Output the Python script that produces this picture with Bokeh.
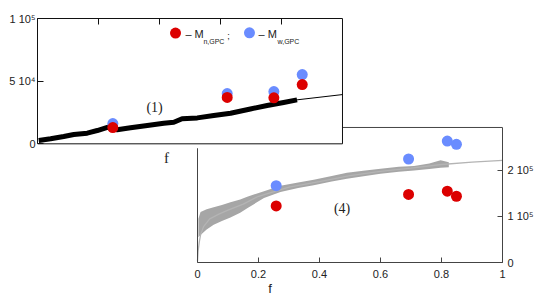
from bokeh.plotting import figure
from bokeh.models import Range1d, LinearAxis, FixedTicker, Label
from bokeh.embed import file_html
from bokeh.resources import INLINE

# ---------------- panel (1): upper-left inset ----------------
f_curve1 = [0.004, 0.043, 0.086, 0.119, 0.163, 0.196, 0.229, 0.261, 0.305, 0.36,
            0.414, 0.447, 0.474, 0.524, 0.578, 0.633, 0.698, 0.753, 0.807, 0.851]
M_curve1 = [2600, 4000, 5800, 7400, 8500, 10600, 13200, 11200, 12800, 14600,
            16400, 17200, 20000, 20700, 22600, 24400, 27800, 30600, 33000, 35100]
f_fit1 = [0.851, 1.0]
M_fit1 = [35100, 39300]
f_gpc1 = [0.247, 0.622, 0.775, 0.868]
Mn_gpc1 = [13000, 37000, 36700, 47300]
Mw_gpc1 = [16200, 40100, 41700, 55300]
yticks1 = [0, 50000, 100000]
ylabels1 = ["0", "5 10\u2074", "1 10\u2075"]
xticks1 = [0.2, 0.4, 0.6, 0.8]

# ---------------- panel (4): lower-right main ----------------
f_band4 = [0.003, 0.01, 0.03, 0.053, 0.08, 0.108, 0.14, 0.163, 0.218, 0.272, 0.33,
           0.381, 0.44, 0.49, 0.55, 0.6, 0.66, 0.71, 0.76, 0.797, 0.824]
M_band4_hi = [95000, 110000, 116000, 120000, 125000, 131000, 137000, 143000, 155000,
              167000, 174000, 180000, 188000, 195000, 200000, 204000, 208000, 210000,
              215000, 222000, 218000]
M_band4_lo = [55000, 60000, 72000, 82000, 90000, 98000, 108000, 118000, 140000,
              153000, 162000, 168000, 176000, 182000, 188000, 193000, 197000, 200000,
              203000, 206000, 207000]
f_fit4 = [0.0, 0.002, 0.006, 0.01, 0.02, 0.04, 0.07, 0.1, 0.15, 0.2, 0.3, 0.4, 0.5,
          0.6, 0.7, 0.8, 0.9, 1.0]
M_fit4 = [3000, 25000, 45000, 60000, 78000, 95000, 105000, 114000, 127000, 144000,
          164000, 176000, 189000, 198000, 205000, 213000, 218000, 222000]
f_gpc4 = [0.258, 0.692, 0.819, 0.849]
Mn_gpc4 = [123000, 148000, 155000, 144000]
Mw_gpc4 = [167000, 225000, 264000, 257000]
yticks4 = [0, 100000, 200000]
ylabels4 = ["0", "1 10\u2075", "2 10\u2075"]
xticks4 = [0, 0.2, 0.4, 0.6, 0.8, 1]
xlabels4 = ["0", "0.2", "0.4", "0.6", "0.8", "1"]

RED = "#dc0000"
BLUE = "#6a8cff"
SANS = "Liberation Sans"
SERIF = "Liberation Serif"
TXT = "#222222"

p = figure(width=540, height=300, output_backend="svg", toolbar_location=None,
           x_range=Range1d(-0.5246, 1.0), y_range=Range1d(0, 530400),
           x_axis_location=None, y_axis_location=None,
           min_border_left=37, min_border_right=38, min_border_top=18,
           min_border_bottom=38)
p.outline_line_color = None
p.grid.visible = False
p.background_fill_color = "white"
p.border_fill_color = "white"
p.extra_x_ranges = {"top_x": Range1d(0, 1.5246)}
p.extra_y_ranges = {"top_y": Range1d(-94700, 100000)}

# ---- panel (4) axes
ax_b = LinearAxis(ticker=FixedTicker(ticks=xticks4), bounds=(0, 1),
                  major_label_overrides={t: l for t, l in zip(xticks4, xlabels4)},
                  axis_label="f")
ax_r = LinearAxis(ticker=FixedTicker(ticks=yticks4), bounds=(0, 293500),
                  major_label_overrides={t: l for t, l in zip(yticks4, ylabels4)})
for ax in (ax_b, ax_r):
    ax.axis_line_color = "#444444"
    ax.major_tick_line_color = "#444444"
    ax.major_tick_in = 5
    ax.major_tick_out = 0
    ax.minor_tick_line_color = None
    ax.major_label_text_font = SANS
    ax.major_label_text_font_size = "11px"
    ax.major_label_text_color = TXT
ax_b.major_label_standoff = 7
ax_b.axis_label_standoff = 0
ax_b.axis_label_text_font = SANS
ax_b.axis_label_text_font_style = "normal"
ax_b.axis_label_text_font_size = "13px"
ax_b.axis_label_text_color = TXT
ax_r.major_label_standoff = 5
p.add_layout(ax_b, "below")
p.add_layout(ax_r, "right")

# ---- panel (1) axes
ax_l = LinearAxis(y_range_name="top_y", ticker=FixedTicker(ticks=yticks1),
                  bounds=(0, 100000),
                  major_label_overrides={t: l for t, l in zip(yticks1, ylabels1)})
ax_t = LinearAxis(x_range_name="top_x", ticker=FixedTicker(ticks=xticks1),
                  bounds=(0, 1),
                  major_label_overrides={t: "" for t in xticks1})
for ax in (ax_l, ax_t):
    ax.axis_line_color = "#111111"
    ax.major_tick_line_color = "#111111"
    ax.major_tick_in = 6
    ax.major_tick_out = 0
    ax.minor_tick_line_color = None
    ax.major_label_text_font = SANS
    ax.major_label_text_font_size = "11px"
    ax.major_label_text_color = TXT
ax_l.major_label_standoff = 2
ax_t.major_label_text_font_size = "1px"
ax_t.major_label_standoff = 0
p.add_layout(ax_l, "left")
p.add_layout(ax_t, "above")

# ---- panel (4) content
p.varea(x=f_band4, y1=M_band4_lo, y2=M_band4_hi, fill_color="#a6a6a6")
p.line(f_fit4, M_fit4, line_color="#b4b4b4", line_width=1.3)
p.scatter(f_gpc4, Mw_gpc4, size=11, fill_color=BLUE, line_color=None)
p.scatter(f_gpc4, Mn_gpc4, size=11, fill_color=RED, line_color=None)
# panel (4) frame (left and top edges)
p.quad(left=[0], right=[1], bottom=[0], top=[293500], fill_color=None,
       line_color="#444444", line_width=1)

# ---- panel (1) white inset box, drawn over panel (4)
p.quad(left=[-0.02], right=[1], bottom=[-3500], top=[100000], fill_color="white",
       line_color=None, x_range_name="top_x", y_range_name="top_y")
p.quad(left=[0], right=[1], bottom=[0], top=[100000], fill_color=None,
       line_color="#111111", line_width=1, x_range_name="top_x", y_range_name="top_y")

p.line(f_fit1, M_fit1, line_color="black", line_width=1,
       x_range_name="top_x", y_range_name="top_y")
p.line(f_curve1, M_curve1, line_color="black", line_width=5, line_join="round",
       x_range_name="top_x", y_range_name="top_y")
p.scatter(f_gpc1, Mw_gpc1, size=11, fill_color=BLUE, line_color=None,
          x_range_name="top_x", y_range_name="top_y")
p.scatter(f_gpc1, Mn_gpc1, size=11, fill_color=RED, line_color=None,
          x_range_name="top_x", y_range_name="top_y")

# ---- legend (inside panel 1)
p.scatter([0.4525], [88400], size=11, fill_color=RED, line_color=None,
          x_range_name="top_x", y_range_name="top_y")
p.scatter([0.695], [88600], size=11, fill_color=BLUE, line_color=None,
          x_range_name="top_x", y_range_name="top_y")


def lab(x, y, text, size, font=SANS, rng=True, align="left"):
    kw = dict(x_range_name="top_x", y_range_name="top_y") if rng else {}
    p.add_layout(Label(x=x, y=y, text=text, text_font=font, text_font_size=size,
                       text_color=TXT, text_baseline="middle", text_align=align, **kw))


lab(0.485, 88000, "\u2013 M", "11px")
lab(0.544, 81500, "n,GPC", "7px")
lab(0.622, 86000, ";", "9px")
lab(0.7246, 88000, "\u2013 M", "11px")
lab(0.787, 81500, "w,GPC", "7px")

lab(0.384, 29000, "(1)", "14px", font=SERIF, align="center")
lab(0.423, -11300, "f", "15px", font=SERIF, align="center")
lab(0.474, 117400, "(4)", "14px", font=SERIF, rng=False, align="center")

open("out.html", "w").write(file_html(p, INLINE))
